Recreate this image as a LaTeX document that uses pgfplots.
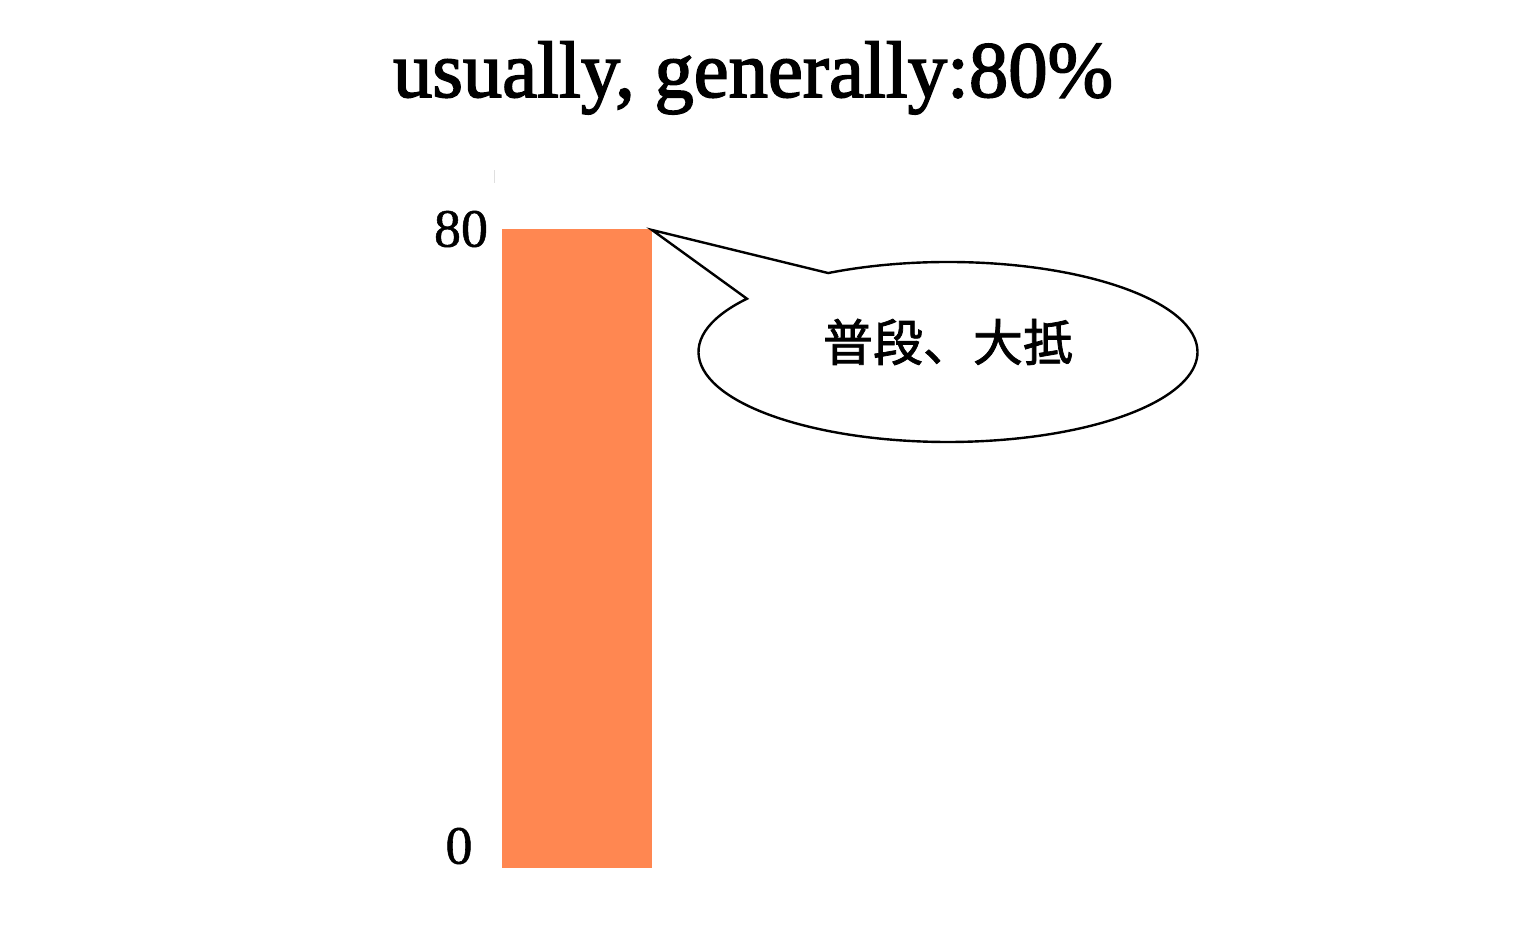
\documentclass[border=0pt]{standalone}
\usepackage{pgfplots}
\pgfplotsset{compat=1.18}
\usepackage{graphicx}
\usepackage{fontspec}
\setmainfont{Liberation Serif}
\newfontfamily\titlefont[FakeBold=2]{Liberation Serif}
\newfontfamily\tickfont[FakeBold=1]{Liberation Serif}
\newfontfamily\cjk[FakeBold=1.5]{Noto Sans CJK JP}
\usetikzlibrary{shapes.callouts}
\definecolor{barorange}{HTML}{FF8751}

\begin{document}
\begin{tikzpicture}
  \path[use as bounding box] (0pt,0pt) rectangle (768pt,465.5pt);
  \begin{axis}[
    at={(251pt,31.5pt)}, anchor=south west,
    scale only axis, width=75pt, height=319.5pt,
    xmin=0, xmax=1, ymin=0, ymax=80,
    axis line style={draw=none},
    major tick length=0pt,
    xtick=\empty,
    ytick={80},
    extra y ticks={0},
    extra y tick style={yticklabel style={yshift=11pt, xshift=-1pt}},
    /pgf/number format/assume math mode=true,
    yticklabel style={font=\tickfont\fontsize{27}{27}\selectfont, anchor=center, xshift=-20.5pt},
    clip=false
  ]
    \addplot[ybar, fill=barorange, draw=none, bar width=75pt] coordinates {(0.5,80)};
  \end{axis}
  % faint remnant of the axis line at the top
  \draw[gray!25, line width=0.5pt] (247pt,374pt) -- (247pt,380.5pt);
  % title
  \node[anchor=base, inner sep=0pt] at (376.5pt,417pt)
    {\resizebox{360pt}{\height}{\titlefont\fontsize{40}{40}\selectfont usually, generally:80\%}};
  % speech bubble
  \node[ellipse callout, draw, line width=1.2pt, fill=white,
        minimum width=249.5pt, minimum height=90pt,
        callout absolute pointer={(326pt,350.5pt)},
        callout pointer arc=25] (bub) at (474pt,289.5pt) {};
  \node at (474pt,294.5pt) {\cjk\fontsize{25}{25}\selectfont 普段、大抵};
\end{tikzpicture}
\end{document}
